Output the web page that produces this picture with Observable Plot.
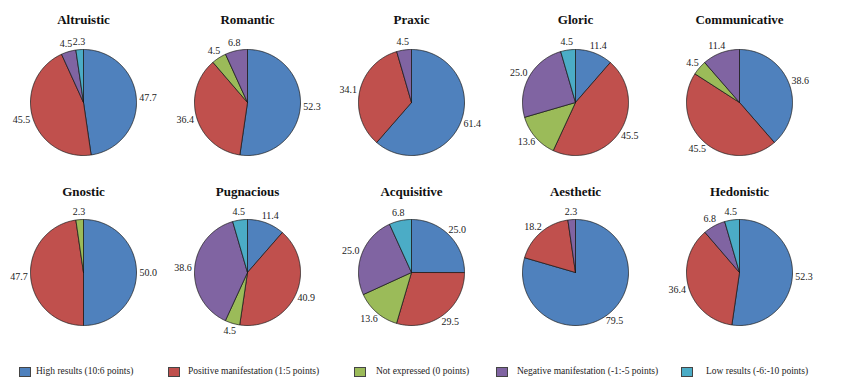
<!DOCTYPE html>
<html>
<head>
<meta charset="utf-8">
<script src="https://cdn.jsdelivr.net/npm/d3@7"></script>
<script src="https://cdn.jsdelivr.net/npm/@observablehq/plot@0.6"></script>
<style>
  html, body { margin: 0; padding: 0; background: #fff; }
  #wrap { position: relative; width: 842px; height: 385px; font-family: "Liberation Serif", "DejaVu Serif", serif; overflow: hidden; }
  #chart svg { display: block; font-family: "Liberation Serif", "DejaVu Serif", serif !important; }
  #chart svg text { font-family: "Liberation Serif", "DejaVu Serif", serif !important; }
  .sw { position: absolute; top: 367px; width: 10px; height: 8px; border: 1px solid #444; }
  .lt { position: absolute; top: 365px; font-size: 9.5px; line-height: 12px; color: #222; white-space: nowrap; font-family: "Liberation Serif", "DejaVu Serif", serif; }
</style>
</head>
<body>
<div id="wrap">
  <div id="chart"></div>
  <div id="legend"></div>
</div>
<script>
// ---- data ----
const traits = ["Altruistic", "Romantic", "Praxic", "Gloric", "Communicative",
                "Gnostic", "Pugnacious", "Acquisitive", "Aesthetic", "Hedonistic"];
const categories = ["High results (10:6 points)", "Positive manifestation (1:5 points)",
                    "Not expressed (0 points)", "Negative manifestation (-1:-5 points)",
                    "Low results (-6:-10 points)"];
const high         = [47.7, 52.3, 61.4, 11.4, 38.6, 50.0, 11.4, 25.0, 79.5, 52.3];
const positive     = [45.5, 36.4, 34.1, 45.5, 45.5, 47.7, 40.9, 29.5, 18.2, 36.4];
const notExpressed = [0,    4.5,  0,    13.6, 4.5,  2.3,  4.5,  13.6, 0,    0];
const negative     = [4.5,  6.8,  4.5,  25.0, 11.4, 0,    38.6, 25.0, 2.3,  6.8];
const low          = [2.3,  0,    0,    4.5,  0,    0,    4.5,  6.8,  0,    4.5];
const colors = ["#4F81BD", "#C0504D", "#9BBB59", "#8064A2", "#4BACC6"];

// ---- layout ----
const series = [high, positive, notExpressed, negative, low];
const R = 53;             // pie radius in px (1 data unit)
const labelR = 56;        // label anchor radius in px
const centerFromTop = 102; // pie centre offset within each facet, px
const titleOffset = [19, 21.5]; // title centre from facet top, per row, px
const legendSwatchX = [19, 168, 354, 496, 681];
const legendTextX = [36, 188, 376, 517, 706];
const serif = "'Liberation Serif', 'DejaVu Serif', serif";

const slicePts = [];
const labels = [];
const titles = [];
traits.forEach((name, i) => {
  const col = i % 5, row = Math.floor(i / 5);
  titles.push({name, col, row, y: (centerFromTop - titleOffset[row]) / R});
  const vals = series.map((s, k) => ({k, v: s[i]})).filter(d => d.v > 0);
  const arcs = d3.pie().sort(null).value(d => d.v)(vals);
  arcs.forEach(a => {
    const cat = categories[a.data.k];
    const key = name + "|" + cat;
    const n = Math.max(2, Math.ceil((a.endAngle - a.startAngle) / (Math.PI / 180)));
    slicePts.push({key, cat, col, row, x: 0, y: 0});
    for (let j = 0; j <= n; j++) {
      const ang = a.startAngle + (a.endAngle - a.startAngle) * j / n;
      slicePts.push({key, cat, col, row, x: Math.sin(ang), y: Math.cos(ang)});
    }
    slicePts.push({key, cat, col, row, x: 0, y: 0});
    const mid = (a.startAngle + a.endAngle) / 2;
    const txt = a.data.v.toFixed(1);
    const w = (txt.length - 1) * 5 + 2.5, h = 10;
    const sx = Math.sin(mid), sy = Math.cos(mid);
    labels.push({
      col, row, txt,
      x: (sx * labelR + sx * w / 2) / R,
      y: (sy * labelR + sy * h / 2) / R
    });
  });
});

const plot = Plot.plot({
  width: 842,
  height: 340,
  marginLeft: 1,
  marginRight: 21,
  marginTop: 0,
  marginBottom: 0,
  style: {fontFamily: serif, background: "#fff"},
  fx: {domain: [0, 1, 2, 3, 4], padding: 0, axis: null},
  fy: {domain: [0, 1], padding: 0, axis: null},
  x: {domain: [-82 / R, 82 / R], axis: null},
  y: {domain: [-(170 - centerFromTop) / R, centerFromTop / R], axis: null},
  color: {domain: categories, range: colors},
  marks: [
    Plot.line(slicePts, {
      x: "x", y: "y", z: "key", fx: "col", fy: "row",
      fill: "cat", stroke: "#1a1a1a", strokeWidth: 0.75, strokeLinejoin: "round"
    }),
    Plot.text(labels, {
      x: "x", y: "y", fx: "col", fy: "row", text: "txt",
      fontSize: 10, fill: "#222", textAnchor: "middle", lineAnchor: "middle"
    }),
    Plot.text(titles, {
      x: () => 0, y: "y", fx: "col", fy: "row", text: "name", lineAnchor: "middle",
      fontSize: 13, fontWeight: "bold", fill: "#111"
    })
  ]
});
document.getElementById("chart").appendChild(plot);

const legend = document.getElementById("legend");
categories.forEach((c, k) => {
  const sw = document.createElement("div");
  sw.className = "sw";
  sw.style.left = legendSwatchX[k] + "px";
  sw.style.background = colors[k];
  legend.appendChild(sw);
  const t = document.createElement("div");
  t.className = "lt";
  t.style.left = legendTextX[k] + "px";
  t.textContent = c;
  legend.appendChild(t);
});
</script>
</body>
</html>
